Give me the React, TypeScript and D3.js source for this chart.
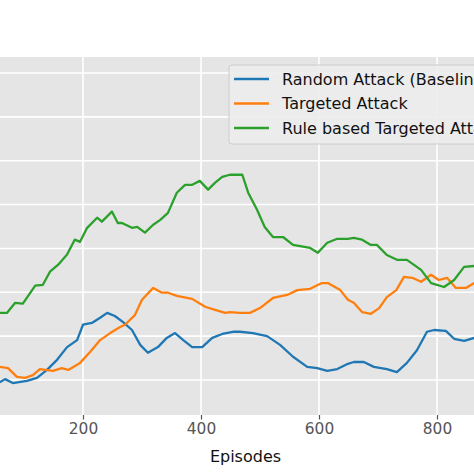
import { useEffect, useRef } from 'react';
import * as d3 from 'd3';

// values: [episode, reward] (y units = one grid step)
const randomAttack: [number, number][] = [
  [59, 0.95], [68, 1.02], [81, 0.93], [105, 0.98], [122, 1.05], [139, 1.23], [156, 1.46],
  [173, 1.75], [190, 1.91], [200, 2.26], [215, 2.3], [229, 2.42], [241, 2.53], [254, 2.46],
  [268, 2.32], [283, 2.14], [297, 1.8], [310, 1.62], [327, 1.75], [342, 1.96], [356, 2.07],
  [370, 1.91], [385, 1.75], [402, 1.75], [419, 1.96], [436, 2.05], [454, 2.1], [466, 2.1],
  [488, 2.07], [512, 2.0], [534, 1.8], [556, 1.53], [580, 1.3], [597, 1.27], [614, 1.21],
  [631, 1.25], [649, 1.37], [659, 1.41], [676, 1.41], [693, 1.3], [715, 1.25], [732, 1.18],
  [749, 1.39], [766, 1.68], [783, 2.1], [795, 2.14], [815, 2.12], [829, 1.94], [846, 1.89],
  [863, 1.96],
];

const targetedAttack: [number, number][] = [
  [59, 1.3], [73, 1.27], [88, 1.07], [102, 1.05], [115, 1.11], [127, 1.25], [149, 1.21],
  [164, 1.27], [175, 1.23], [195, 1.39], [212, 1.64], [229, 1.91], [246, 2.07], [263, 2.21],
  [271, 2.26], [288, 2.48], [300, 2.83], [319, 3.1], [334, 2.99], [344, 2.99], [359, 2.92],
  [385, 2.85], [407, 2.67], [424, 2.6], [441, 2.53], [449, 2.55], [466, 2.53], [483, 2.53],
  [500, 2.64], [522, 2.87], [546, 2.94], [563, 3.05], [585, 3.08], [605, 3.21], [615, 3.21],
  [636, 3.05], [649, 2.83], [659, 2.76], [673, 2.55], [688, 2.51], [702, 2.64], [715, 2.89],
  [731, 3.05], [744, 3.35], [758, 3.33], [773, 3.24], [790, 3.4], [803, 3.28], [817, 3.33],
  [832, 3.1], [849, 3.1], [863, 3.21],
];

const ruleBasedAttack: [number, number][] = [
  [59, 2.53], [71, 2.53], [85, 2.76], [98, 2.74], [119, 3.15], [132, 3.17], [144, 3.47],
  [158, 3.63], [173, 3.86], [186, 4.2], [195, 4.15], [207, 4.47], [224, 4.7], [232, 4.61],
  [249, 4.84], [259, 4.58], [266, 4.58], [283, 4.47], [292, 4.49], [305, 4.36], [319, 4.54],
  [331, 4.65], [344, 4.81], [359, 5.27], [373, 5.45], [385, 5.45], [398, 5.54], [412, 5.34],
  [424, 5.5], [436, 5.63], [449, 5.68], [470, 5.68], [480, 5.27], [495, 4.88], [508, 4.49],
  [522, 4.26], [539, 4.26], [556, 4.08], [585, 4.01], [598, 3.9], [614, 4.13], [631, 4.22],
  [649, 4.22], [659, 4.24], [673, 4.2], [688, 4.08], [698, 4.08], [715, 3.85], [732, 3.74],
  [749, 3.74], [773, 3.51], [790, 3.21], [812, 3.12], [829, 3.28], [846, 3.58], [863, 3.6],
];

const seriesNames = ['Random Attack (Baseline)', 'Targeted Attack', 'Rule based Targeted Attack'];
const xGrid = [0, 200, 400, 600, 800, 1000];
const xTickLabels = [200, 400, 600, 800];
const yTicks = [1, 2, 3, 4, 5, 6, 7, 8];

export default function App() {
  const ref = useRef<SVGSVGElement>(null);

  useEffect(() => {
    if (!ref.current) return;
    const svg = d3.select(ref.current);
    svg.selectAll('*').remove();

    const top = 57;
    const bottom = 415;
    const font = '"DejaVu Sans", sans-serif';

    const x = d3.scaleLinear().domain([200, 800]).range([83, 437]);
    const y = d3.scaleLinear().domain([1, 8]).range([380, 73]);

    const colors = ['#1f77b4', '#ff7f0e', '#2ca02c'];
    const series = [randomAttack, targetedAttack, ruleBasedAttack];

    // panel
    svg.append('rect')
      .attr('x', x(-60))
      .attr('y', top)
      .attr('width', x(1060) - x(-60))
      .attr('height', bottom - top)
      .attr('fill', '#e5e5e5');

    // grid
    svg.append('g')
      .selectAll('line')
      .data(yTicks)
      .join('line')
      .attr('x1', x(-60))
      .attr('x2', x(1060))
      .attr('y1', (d) => y(d))
      .attr('y2', (d) => y(d))
      .attr('stroke', 'white')
      .attr('stroke-width', 1.6);

    svg.append('g')
      .selectAll('line')
      .data(xGrid)
      .join('line')
      .attr('x1', (d) => x(d))
      .attr('x2', (d) => x(d))
      .attr('y1', top)
      .attr('y2', bottom)
      .attr('stroke', 'white')
      .attr('stroke-width', 1.6);

    // x axis
    const xAxis = svg.append('g')
      .attr('transform', `translate(0,${bottom})`)
      .call(d3.axisBottom(x).tickValues(xTickLabels).tickSize(4.5).tickPadding(4).tickFormat(d3.format('d')));
    xAxis.select('.domain').remove();
    xAxis.selectAll('line').attr('stroke', '#555').attr('stroke-width', 1.2);
    xAxis.selectAll('text')
      .attr('fill', '#555')
      .attr('font-size', '15.4px')
      .attr('font-family', font);

    svg.append('text')
      .attr('x', 245.5)
      .attr('y', 462)
      .attr('text-anchor', 'middle')
      .attr('font-size', '16px')
      .attr('font-family', font)
      .attr('fill', '#111')
      .text('Episodes');

    // lines
    const line = d3.line<[number, number]>()
      .x((d) => x(d[0]))
      .y((d) => y(d[1]));

    series.forEach((s, i) => {
      svg.append('path')
        .datum(s)
        .attr('d', line)
        .attr('fill', 'none')
        .attr('stroke', colors[i])
        .attr('stroke-width', 2.3)
        .attr('stroke-linejoin', 'round');
    });

    // legend (runs past the right edge, as in the source image)
    const legend = svg.append('g');
    legend.append('rect')
      .attr('x', 229)
      .attr('y', 65)
      .attr('width', 320)
      .attr('height', 79)
      .attr('rx', 3)
      .attr('fill', '#ececec')
      .attr('fill-opacity', 0.9)
      .attr('stroke', '#cccccc')
      .attr('stroke-width', 1);

    seriesNames.forEach((name, i) => {
      const ly = 79 + i * 24.5;
      legend.append('line')
        .attr('x1', 234)
        .attr('x2', 269)
        .attr('y1', ly)
        .attr('y2', ly)
        .attr('stroke', colors[i])
        .attr('stroke-width', 2.3);
      legend.append('text')
        .attr('x', 282)
        .attr('y', ly + 5.8)
        .attr('font-size', '16px')
        .attr('font-family', font)
        .attr('fill', '#111')
        .text(name);
    });
  }, []);

  return (
    <svg
      ref={ref}
      width={474}
      height={474}
      style={{ position: 'absolute', left: 0, top: 0, background: 'white' }}
    />
  );
}
